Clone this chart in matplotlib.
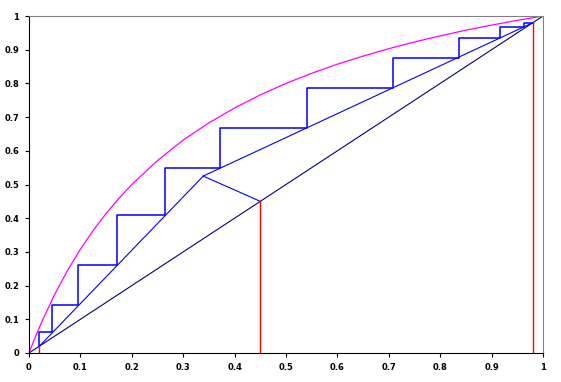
import numpy as np
import matplotlib.pyplot as plt

# Equilibrium curve
eq_x = [0.0, 0.01, 0.025, 0.05, 0.075, 0.1, 0.125, 0.15, 0.175, 0.2, 0.25, 0.3, 0.35,
        0.4, 0.45, 0.5, 0.55, 0.6, 0.65, 0.7, 0.75, 0.8, 0.85, 0.9, 0.95, 1.0]
eq_y = [0.0, 0.039, 0.093, 0.174, 0.245, 0.308, 0.364, 0.414, 0.459, 0.5, 0.571, 0.632,
        0.683, 0.727, 0.766, 0.8, 0.830, 0.857, 0.881, 0.903, 0.923, 0.941, 0.958,
        0.973, 0.987, 1.0]

# Compositions
x_D = 0.98
x_F = 0.45
x_W = 0.02
feed_pt = (0.339, 0.525)

# Stage corners (x on equilibrium step, y on operating line)
step_x = [0.98, 0.964, 0.917, 0.837, 0.709, 0.540, 0.372, 0.265, 0.172, 0.096, 0.045, 0.020]
step_y = [0.98, 0.966, 0.934, 0.874, 0.785, 0.667, 0.548, 0.409, 0.261, 0.1415, 0.063, 0.020]

ticks = [0, 0.1, 0.2, 0.3, 0.4, 0.5, 0.6, 0.7, 0.8, 0.9, 1]
tick_labels = ["0", "0.1", "0.2", "0.3", "0.4", "0.5", "0.6", "0.7", "0.8", "0.9", "1"]

fig = plt.figure(figsize=(5.61, 3.82), dpi=100)
ax = fig.add_axes([29/561, 29/382, 514/561, 337/382])

# diagonal
ax.plot([0, 1], [0, 1], color="#000080", lw=0.8)
# equilibrium
ax.plot(eq_x, eq_y, color="#FF00FF", lw=0.9)
# operating lines and q-line
ax.plot([x_D, feed_pt[0]], [x_D, feed_pt[1]], color="#0000FF", lw=0.8)
ax.plot([x_W, feed_pt[0]], [x_W, feed_pt[1]], color="#0000FF", lw=0.8)
ax.plot([x_F, feed_pt[0]], [x_F, feed_pt[1]], color="#0000FF", lw=0.8)
# stages
ax.plot(step_x, step_y, color="#0000FF", lw=1.1, drawstyle="steps-post")
# composition markers
for xv in [x_W, x_F, x_D]:
    ax.plot([xv, xv], [0, xv], color="#FF0000", lw=1.0)

ax.set_xlim(0, 1)
ax.set_ylim(0, 1)
ax.set_xticks(ticks)
ax.set_xticklabels(tick_labels)
ax.set_yticks(ticks)
ax.set_yticklabels(tick_labels)
ax.tick_params(direction="out", length=3, width=0.8, labelsize=6, pad=4)
for lab in ax.get_xticklabels() + ax.get_yticklabels():
    lab.set_fontweight("bold")

ax.spines["left"].set_color("black")
ax.spines["bottom"].set_color("black")
ax.spines["top"].set_color("#808080")
ax.spines["right"].set_color("#808080")

fig.savefig("out.png", dpi=100)
